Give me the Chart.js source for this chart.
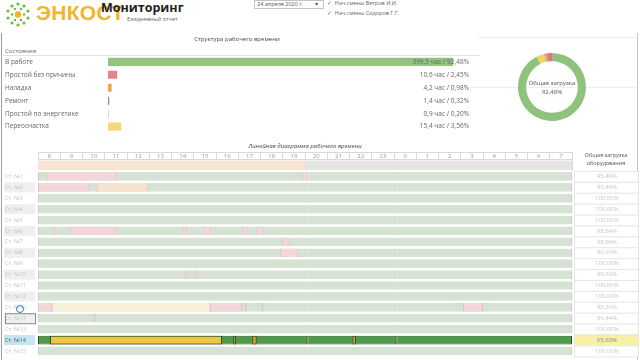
<!DOCTYPE html>
<html lang="ru">
<head>
<meta charset="utf-8">
<script src="https://cdn.jsdelivr.net/npm/chart.js@4.4.1/dist/chart.umd.min.js"></script>
<style>
  html, body { margin: 0; padding: 0; background: #fff; }
  body { width: 640px; height: 360px; position: relative; overflow: hidden; font-family: 'Open Sans', sans-serif; color: #555; }
  .abs { position: absolute; white-space: nowrap; }
  .box { position: absolute; }
  .box canvas { display: block; }
</style>
</head>
<body>

<!-- header -->
<svg class="abs" style="left:3px;top:1px" width="30" height="28" viewBox="0 0 30 28">
  <g fill="#6dbb45">
    <circle cx="15" cy="3" r="1.6"/><circle cx="21" cy="5" r="1.6"/><circle cx="25" cy="10" r="1.6"/>
    <circle cx="25" cy="17" r="1.6"/><circle cx="21" cy="22" r="1.6"/><circle cx="15" cy="24" r="1.6"/>
    <circle cx="9" cy="22" r="1.6"/><circle cx="5" cy="17" r="1.6"/><circle cx="5" cy="10" r="1.6"/>
    <circle cx="9" cy="5" r="1.6"/>
    <circle cx="18" cy="8" r="1.2"/><circle cx="21" cy="13.5" r="1.2"/><circle cx="18" cy="19" r="1.2"/>
    <circle cx="12" cy="19" r="1.2"/><circle cx="9" cy="13.5" r="1.2"/><circle cx="12" cy="8" r="1.2"/>
  </g>
  <circle cx="15" cy="13.5" r="3.2" fill="#f2b52a"/>
</svg>
<div class="abs" style="left:36px;top:0px;font:bold 21px 'Liberation Sans Narrow','Liberation Sans',sans-serif;color:#f2b52a;line-height:26px;letter-spacing:0.3px">ЭНКОСТ</div>
<div class="abs" style="left:101px;top:0px;font:bold 12.5px 'Open Sans',sans-serif;color:#222;line-height:15px">Мониторинг</div>
<div class="abs" style="left:127px;top:16px;font-size:5.5px;line-height:7px;color:#666">Ежедневный отчет</div>

<div class="abs" style="left:254px;top:0px;width:68px;height:7px;border:1px solid #c4c4c4;font-size:5.5px;line-height:7px;color:#555">
  <span style="padding-left:2px">24 апреля 2020 г.</span><span style="position:absolute;right:5px;top:0">▾</span>
</div>
<div class="abs" style="left:327px;top:0px;font-size:5.5px;line-height:7px;color:#666"><span style="color:#777">✓</span>&nbsp; Нач.смены Ветров И.И.</div>
<div class="abs" style="left:327px;top:10px;font-size:5.5px;line-height:7px;color:#666"><span style="color:#777">✓</span>&nbsp; Нач.смены Сидоров Г.Г.</div>

<!-- frame and faint separators -->
<div class="abs" style="left:1px;top:33px;width:635px;height:330px;border-left:1px solid #9c9c9c;border-right:1px solid #c4c4c4"></div>
<div class="abs" style="left:478px;top:37px;width:158px;height:0;border-top:1px solid #eeeeee"></div>
<div class="abs" style="left:470px;top:87px;width:166px;height:0;border-top:1px solid #eeeeee"></div>

<!-- structure block -->
<div class="abs" style="left:5px;top:47px;font-size:6px;line-height:8px;color:#666">Состояния</div>
<div class="abs" style="left:3px;top:55px;width:477px;height:0;border-top:1px solid #e2e2e2"></div>
<div class="box" style="left:0;top:33px;width:500px;height:104px"><canvas id="structure"></canvas></div>
<div class="box" style="left:518px;top:53px;width:68px;height:68px"><canvas id="donut"></canvas></div>

<!-- timeline block -->
<div class="box" style="left:0;top:140px;width:640px;height:220px"><canvas id="timeline"></canvas></div>
<div class="abs" style="left:574px;top:151px;width:64px;text-align:center;font-size:5.5px;line-height:8px;color:#555">Общая загрузка<br>оборудования</div>
<div class="abs" style="left:16px;top:304.5px;width:6px;height:6px;border:1.6px solid #2f7fc4;border-radius:50%"></div>

<script>
const FONT = "'Open Sans', sans-serif";

// ---- structure of working time ----
const states = ['В работе', 'Простой без причины', 'Наладка', 'Ремонт', 'Простой по энергетике', 'Переоснастка'];
const stateHours = [399.5, 10.6, 4.2, 1.4, 0.9, 15.4];
const statePct = [92.48, 2.45, 0.98, 0.32, 0.20, 3.56];

// ---- timeline ----
const hourLabels = ['8', '9', '10', '11', '12', '13', '14', '15', '16', '17', '18', '19',
                    '20', '21', '22', '23', '0', '1', '2', '3', '4', '5', '6', '7'];
const machines = ['Ст. №1', 'Ст. №2', 'Ст. №3', 'Ст. №4', 'Ст. №5', 'Ст. №6', 'Ст. №7', 'Ст. №8',
                  'Ст. №9', 'Ст. №10', 'Ст. №11', 'Ст. №12', 'Ст. №16', 'Ст. №17', 'Ст. №13', 'Ст. №14', 'Ст. №15'];
const machineLoad = [95.49, 95.49, 100.00, 100.00, 100.00, 98.54, 98.96, 96.60, 100.00,
                     99.92, 100.00, 100.00, 98.26, 99.44, 100.00, 65.63, 100.00];
const selectedRow = 15;

// hours counted from 8:00
const shiftStart = [0, 12];
const shiftEnd = [12, 24];
const workCuts = [0, 12.1, 16.1, 24];

const stopRow   = [0, 0, 1, 1, 5, 5, 5, 5, 5, 5, 6, 7, 9, 9, 12, 12, 12, 12, 12, 12, 13, 15, 15, 15, 15];
const stopFrom  = [0.39, 11.86, 0, 2.65, 0.61, 1.45, 6.5, 7.4, 9.2, 9.83, 10.96, 10.88, 6.61, 7.06,
                   0, 0.63, 7.73, 9.3, 10.05, 19.1, 2.49, 0.54, 8.77, 9.63, 14.13];
const stopTo    = [3.54, 12.1, 2.34, 4.95, 0.76, 3.54, 6.7, 7.78, 9.45, 10.13, 11.3, 11.69, 6.76, 7.21,
                   0.63, 7.73, 9.17, 9.38, 10.13, 20.0, 2.6, 8.27, 8.9, 9.83, 14.29];
const stopState = [1, 1, 1, 2, 1, 1, 1, 1, 1, 1, 1, 1, 1, 1, 1, 5, 1, 1, 1, 1, 1, 5, 2, 2, 2];

const stateColors = ['#93c47f', '#e8838c', '#f1a24f', '#8c8c8c', '#cfcfcf', '#f3d978'];
const fadedColors = ['#d6e2d3', '#f3d6d9', '#f6e2ce', '#e2e2e2', '#ececec', '#f7efd9'];
const fadedBorders = ['#c4d4c1', '#e4c4c8', '#ead3bd', '#d0d0d0', '#dddddd', '#e9dfc3'];
const strongColors = ['#4e9b47', '#e0606b', '#e98f2c', '#777777', '#bbbbbb', '#f1c53f'];

const fmt = (v, d) => v.toFixed(d).replace('.', ',');

const valueLabels = {
  id: 'valueLabels',
  afterDatasetsDraw(chart) {
    const {ctx, chartArea, scales: {y}} = chart;
    ctx.save();
    ctx.font = `6.5px ${FONT}`;
    ctx.fillStyle = '#666';
    ctx.textAlign = 'right';
    ctx.textBaseline = 'middle';
    stateHours.forEach((h, i) => {
      ctx.fillText(`${fmt(h, 1)} час / ${fmt(statePct[i], 2)}%`, chartArea.right, y.getPixelForValue(i));
    });
    ctx.restore();
  }
};

new Chart(document.getElementById('structure'), {
  type: 'bar',
  data: {
    labels: states,
    datasets: [{
      data: stateHours,
      backgroundColor: stateColors,
      barPercentage: 0.62,
      categoryPercentage: 1
    }]
  },
  options: {
    indexAxis: 'y',
    responsive: true,
    maintainAspectRatio: false,
    animation: false,
    layout: { padding: { left: 5, right: 31, top: 0, bottom: 2.4 } },
    scales: {
      x: { display: false, min: 0, max: 418 },
      y: {
        afterFit: s => { s.width = 103; },
        grid: { display: false },
        border: { display: false },
        ticks: { crossAlign: 'far', padding: 0, autoSkip: false, color: '#666', font: { size: 6.5, family: FONT } }
      }
    },
    plugins: {
      legend: { display: false },
      title: {
        display: true,
        text: 'Структура рабочего времени',
        color: '#444',
        font: { size: 6, family: FONT, weight: 'normal' },
        padding: { top: 2.4, bottom: 12.8 }
      }
    }
  },
  plugins: [valueLabels]
});

// doughnut: drawn clockwise from the last state so the small ones sit around the top
const centerText = {
  id: 'centerText',
  afterDraw(chart) {
    const {ctx, chartArea} = chart;
    const cx = (chartArea.left + chartArea.right) / 2;
    const cy = (chartArea.top + chartArea.bottom) / 2;
    ctx.save();
    ctx.font = `6px ${FONT}`;
    ctx.fillStyle = '#555';
    ctx.textAlign = 'center';
    ctx.textBaseline = 'middle';
    ctx.fillText('Общая загрузка', cx, cy - 4);
    ctx.fillText(fmt(statePct[0], 2) + '%', cx, cy + 5);
    ctx.restore();
  }
};

new Chart(document.getElementById('donut'), {
  type: 'doughnut',
  data: {
    labels: states.slice().reverse(),
    datasets: [{
      data: stateHours.slice().reverse(),
      backgroundColor: ['#f2d36b', '#cfcfcf', '#8c8c8c', '#f1a24f', '#e5747c', '#8fc27d'],
      borderWidth: 0
    }]
  },
  options: {
    responsive: true,
    maintainAspectRatio: false,
    animation: false,
    cutout: '76%',
    rotation: -(100 - statePct[0]) * 3.6,
    plugins: { legend: { display: false }, tooltip: { enabled: false } }
  },
  plugins: [centerText]
});

// ---- timeline chart ----
const ganttSets = states.map((name, s) => ({
  label: name,
  data: [],
  order: s === 0 ? 1 : 0,
  backgroundColor: c => c.raw && c.raw.y === machines[selectedRow] ? strongColors[s] : fadedColors[s],
  borderColor: c => c.raw && c.raw.y === machines[selectedRow] ? '#2c5528' : fadedBorders[s],
  borderWidth: c => c.raw && c.raw.y === machines[selectedRow] ? 1 : { left: 1, right: 1, top: 0, bottom: 0 },
  borderSkipped: false,
  barPercentage: 0.8,
  categoryPercentage: 1
}));
machines.forEach(m => {
  for (let k = 0; k < workCuts.length - 1; k++) {
    ganttSets[0].data.push({ x: [workCuts[k], workCuts[k + 1]], y: m });
  }
});
stopRow.forEach((r, i) => {
  ganttSets[stopState[i]].data.push({ x: [stopFrom[i], stopTo[i]], y: machines[r] });
});

const ganttDecor = {
  id: 'ganttDecor',
  beforeDraw(chart) {
    const {ctx, chartArea, scales: {y}} = chart;
    ctx.save();
    machines.forEach((m, i) => {
      const cy = y.getPixelForValue(i);
      // left label cells
      if (i === selectedRow) {
        ctx.fillStyle = '#c4e5f2';
        ctx.fillRect(4, cy - 5, 31, 10);
      } else if (i % 2 === 1) {
        ctx.fillStyle = '#efefef';
        ctx.fillRect(4, cy - 5, 31, 10);
      }
      // load cells
      ctx.fillStyle = i === selectedRow ? '#f6f1a4' : '#ffffff';
      ctx.fillRect(chartArea.right + 2, cy - 5.5, 64, 11);
      ctx.strokeStyle = '#e6e6e6';
      ctx.lineWidth = 1;
      ctx.strokeRect(chartArea.right + 2.5, cy - 5, 64, 11);
    });
    ctx.restore();
  },
  beforeDatasetsDraw(chart) {
    const {ctx, chartArea, scales: {x, y}} = chart;
    ctx.save();
    // header cell lines
    ctx.strokeStyle = '#d9d9d9';
    ctx.lineWidth = 1;
    ctx.beginPath();
    ctx.moveTo(chartArea.left, chartArea.top - 18.5);
    ctx.lineTo(chartArea.right, chartArea.top - 18.5);
    ctx.moveTo(chartArea.left, chartArea.top - 11.5);
    ctx.lineTo(chartArea.right, chartArea.top - 11.5);
    ctx.stroke();
    // shift band
    const bandColors = ['#f6e4d4', '#e5e5e5'];
    ctx.fillStyle = '#ffffff';
    ctx.fillRect(chartArea.left, chartArea.top - 11, chartArea.right - chartArea.left, 11);
    shiftStart.forEach((s, i) => {
      const x1 = x.getPixelForValue(s);
      const x2 = x.getPixelForValue(shiftEnd[i]);
      ctx.fillStyle = bandColors[i];
      ctx.fillRect(x1, chartArea.top - 10.5, x2 - x1, 9.5);
    });
    // focus box on a row label
    const by = y.getPixelForValue(13);
    ctx.strokeStyle = '#8a8a8a';
    ctx.strokeRect(5.5, by - 4.5, 30, 10);
    ctx.restore();
  }
};

new Chart(document.getElementById('timeline'), {
  type: 'bar',
  data: { labels: machines, datasets: ganttSets },
  options: {
    indexAxis: 'y',
    responsive: true,
    maintainAspectRatio: false,
    animation: false,
    layout: { padding: { left: 5, right: 0, top: 0, bottom: 2 } },
    scales: {
      x: { type: 'linear', display: false, min: 0, max: 24 },
      xTop: {
        type: 'category',
        labels: hourLabels,
        position: 'top',
        offset: true,
        afterFit: s => { s.height = 19; },
        grid: { offset: true, drawOnChartArea: false, tickLength: 19, color: '#d9d9d9' },
        border: { display: false },
        ticks: { padding: -7.5, autoSkip: false, maxRotation: 0, color: '#999', font: { size: 6, family: FONT } }
      },
      y: {
        afterFit: s => { s.width = 33; },
        grid: { display: false },
        border: { display: false },
        ticks: {
          crossAlign: 'far', padding: 0, autoSkip: false,
          color: c => c.index === selectedRow ? '#555' : '#c2c2c2',
          font: { size: 5.5, family: FONT }
        }
      },
      yR: {
        type: 'category',
        position: 'right',
        labels: machineLoad.map(v => fmt(v, 2) + '%'),
        offset: true,
        afterFit: s => { s.width = 68; },
        // invisible tick marks push the centred labels into the middle of the column
        grid: { display: true, drawOnChartArea: false, drawTicks: true, tickLength: 23, color: 'rgba(0,0,0,0)' },
        border: { display: false },
        ticks: {
          crossAlign: 'center', padding: 0, autoSkip: false,
          color: c => c.index === selectedRow ? '#888' : '#c6c6c6',
          font: { size: 6, family: FONT }
        }
      }
    },
    plugins: {
      legend: { display: false },
      title: {
        display: true,
        fullSize: false,
        text: 'Линейная диаграмма рабочего времени',
        color: '#444',
        font: { size: 6, family: FONT, style: 'italic', weight: 'normal' },
        padding: { top: 2.4, bottom: 2.4 }
      }
    },
    datasets: { bar: { grouped: false } }
  },
  plugins: [ganttDecor]
});
</script>
</body>
</html>
